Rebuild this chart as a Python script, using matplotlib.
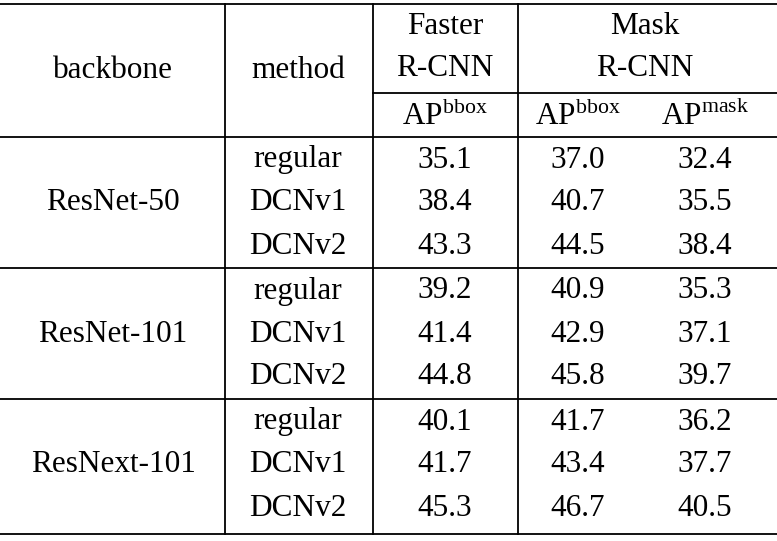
import matplotlib
matplotlib.use("Agg")
import matplotlib.pyplot as plt

plt.rcParams['font.family'] = ['Liberation Serif', 'DejaVu Serif']
plt.rcParams['mathtext.fontset'] = 'custom'
plt.rcParams['mathtext.rm'] = 'Liberation Serif'

backbones = ["ResNet-50", "ResNet-101", "ResNext-101"]
methods = ["regular", "DCNv1", "DCNv2"]
faster_bbox = [35.1, 38.4, 43.3, 39.2, 41.4, 44.8, 40.1, 41.7, 45.3]
mask_bbox = [37.0, 40.7, 44.5, 40.9, 42.9, 45.8, 41.7, 43.4, 46.7]
mask_mask = [32.4, 35.5, 38.4, 35.3, 37.1, 39.7, 36.2, 37.7, 40.5]

fig = plt.figure(figsize=(7.77, 5.41), dpi=100)
ax = fig.add_axes([0, 0, 1, 1])
ax.set_xlim(0, 777)
ax.set_ylim(541, 0)
ax.axis('off')

fs = 22.5
lw = 1.3
kw = dict(ha='center', va='center', fontsize=fs)

for y in [4, 137, 268, 399, 534]:
    ax.plot([0, 777], [y, y], color='black', lw=lw)
ax.plot([373, 777], [93, 93], color='black', lw=lw)
for x in [225, 373, 518]:
    ax.plot([x, x], [4, 534], color='black', lw=lw)

ax.text(113, 70, "backbone", **kw)
ax.text(298, 70, "method", **kw)
ax.text(445, 26, "Faster", **kw)
ax.text(445, 68, "R-CNN", **kw)
ax.text(645, 26, "Mask", **kw)
ax.text(645, 68, "R-CNN", **kw)
ax.text(445, 116, r"AP$^{\mathrm{bbox}}$", **kw)
ax.text(578, 116, r"AP$^{\mathrm{bbox}}$", **kw)
ax.text(705, 116, r"AP$^{\mathrm{mask}}$", **kw)

row_y = [160, 203, 246, 291, 334, 377, 422, 465, 509]
for g, b in enumerate(backbones):
    ax.text(113, row_y[3 * g + 1], b, **kw)
for i, y in enumerate(row_y):
    ax.text(298, y, methods[i % 3], **kw)
    ax.text(445, y, f"{faster_bbox[i]:.1f}", **kw)
    ax.text(578, y, f"{mask_bbox[i]:.1f}", **kw)
    ax.text(705, y, f"{mask_mask[i]:.1f}", **kw)

fig.savefig("out.png", dpi=100)
